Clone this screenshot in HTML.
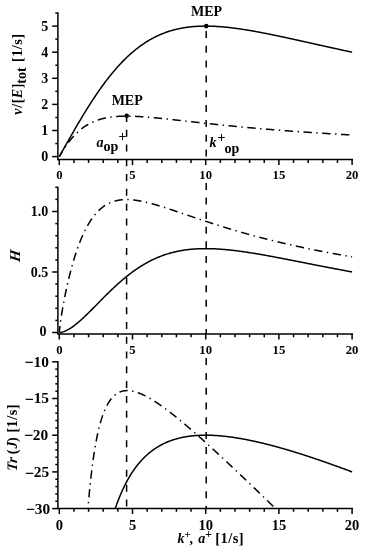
<!DOCTYPE html><html><head><meta charset="utf-8"><title>MEP figure</title><style>html,body{margin:0;padding:0;background:#fff;width:365px;height:550px;overflow:hidden}svg{display:block}</style></head><body><svg width="365" height="550" viewBox="0 0 365 550">
<style>.ax{stroke:#000;stroke-width:1.5;fill:none;stroke-linecap:butt}.c{stroke:#000;stroke-width:1.5;fill:none;stroke-linejoin:round}.dd{stroke-dasharray:8.4 4.5 1.4 4.5}.vd{stroke:#000;stroke-width:1.5;fill:none}.t{font-family:"Liberation Serif",serif;font-weight:bold;fill:#000}.i{font-style:italic}</style>
<rect width="365" height="550" fill="#fff"/>
<path class="vd" d="M206.20,30.90V37.90M206.20,45.73V52.73M206.20,60.56V67.56M206.20,75.39V82.39M206.20,90.22V97.22M206.20,105.05V112.05M206.20,119.88V126.88M206.20,134.71V141.71M206.20,149.54V156.54"/>
<path class="vd" d="M206.20,182.90V189.90M206.20,197.51V204.51M206.20,212.12V219.12M206.20,226.73V233.73M206.20,241.34V248.34M206.20,255.95V262.95M206.20,270.56V277.56M206.20,285.17V292.17M206.20,299.78V306.78M206.20,314.39V321.39M206.20,329.00V334.00"/>
<path class="vd" d="M206.20,358.10V365.10M206.20,372.90V379.90M206.20,387.70V394.70M206.20,402.50V409.50M206.20,417.30V424.30M206.20,432.10V439.10M206.20,446.90V453.90M206.20,461.70V468.70M206.20,476.50V483.50M206.20,491.30V498.30M206.20,506.10V508.50"/>
<path class="vd" d="M126.60,114.90V121.90M126.60,129.69V136.69M126.60,144.48V151.48M126.60,159.27V166.27M126.60,174.06V181.06M126.60,188.85V195.85M126.60,203.64V210.64M126.60,218.43V225.43M126.60,233.22V240.22M126.60,248.01V255.01M126.60,262.80V269.80M126.60,277.59V284.59M126.60,292.38V299.38M126.60,307.17V314.17M126.60,321.96V328.96M126.60,336.75V343.75M126.60,351.54V358.54M126.60,366.33V373.33M126.60,381.12V388.12M126.60,395.91V402.91M126.60,410.70V417.70M126.60,425.49V432.49M126.60,440.28V447.28M126.60,455.07V462.07M126.60,469.86V476.86M126.60,484.65V491.65M126.60,499.44V506.44"/>
<line x1="57.90" y1="12.30" x2="57.90" y2="160.20" class="ax"/>
<line x1="52.20" y1="156.60" x2="57.90" y2="156.60" class="ax"/>
<line x1="52.20" y1="130.50" x2="57.90" y2="130.50" class="ax"/>
<line x1="52.20" y1="104.40" x2="57.90" y2="104.40" class="ax"/>
<line x1="52.20" y1="78.30" x2="57.90" y2="78.30" class="ax"/>
<line x1="52.20" y1="52.20" x2="57.90" y2="52.20" class="ax"/>
<line x1="52.20" y1="26.10" x2="57.90" y2="26.10" class="ax"/>
<line x1="55.30" y1="143.55" x2="57.90" y2="143.55" class="ax"/>
<line x1="55.30" y1="117.45" x2="57.90" y2="117.45" class="ax"/>
<line x1="55.30" y1="91.35" x2="57.90" y2="91.35" class="ax"/>
<line x1="55.30" y1="65.25" x2="57.90" y2="65.25" class="ax"/>
<line x1="55.30" y1="39.15" x2="57.90" y2="39.15" class="ax"/>
<line x1="55.30" y1="13.05" x2="57.90" y2="13.05" class="ax"/>
<text x="48.30" y="161.36" text-anchor="end" font-size="14" class="t">0</text>
<text x="48.30" y="135.26" text-anchor="end" font-size="14" class="t">1</text>
<text x="48.30" y="109.16" text-anchor="end" font-size="14" class="t">2</text>
<text x="48.30" y="83.06" text-anchor="end" font-size="14" class="t">3</text>
<text x="48.30" y="56.96" text-anchor="end" font-size="14" class="t">4</text>
<text x="48.30" y="30.86" text-anchor="end" font-size="14" class="t">5</text>
<line x1="57.30" y1="159.60" x2="353.00" y2="159.60" class="ax"/>
<line x1="59.30" y1="159.60" x2="59.30" y2="165.10" class="ax"/>
<line x1="73.94" y1="159.60" x2="73.94" y2="162.90" class="ax"/>
<line x1="88.58" y1="159.60" x2="88.58" y2="162.90" class="ax"/>
<line x1="103.22" y1="159.60" x2="103.22" y2="162.90" class="ax"/>
<line x1="117.86" y1="159.60" x2="117.86" y2="162.90" class="ax"/>
<line x1="132.50" y1="159.60" x2="132.50" y2="165.10" class="ax"/>
<line x1="147.14" y1="159.60" x2="147.14" y2="162.90" class="ax"/>
<line x1="161.78" y1="159.60" x2="161.78" y2="162.90" class="ax"/>
<line x1="176.42" y1="159.60" x2="176.42" y2="162.90" class="ax"/>
<line x1="191.06" y1="159.60" x2="191.06" y2="162.90" class="ax"/>
<line x1="205.70" y1="159.60" x2="205.70" y2="165.10" class="ax"/>
<line x1="220.34" y1="159.60" x2="220.34" y2="162.90" class="ax"/>
<line x1="234.98" y1="159.60" x2="234.98" y2="162.90" class="ax"/>
<line x1="249.62" y1="159.60" x2="249.62" y2="162.90" class="ax"/>
<line x1="264.26" y1="159.60" x2="264.26" y2="162.90" class="ax"/>
<line x1="278.90" y1="159.60" x2="278.90" y2="165.10" class="ax"/>
<line x1="293.54" y1="159.60" x2="293.54" y2="162.90" class="ax"/>
<line x1="308.18" y1="159.60" x2="308.18" y2="162.90" class="ax"/>
<line x1="322.82" y1="159.60" x2="322.82" y2="162.90" class="ax"/>
<line x1="337.46" y1="159.60" x2="337.46" y2="162.90" class="ax"/>
<line x1="352.10" y1="159.60" x2="352.10" y2="165.10" class="ax"/>
<text x="59.30" y="179.20" text-anchor="middle" font-size="12.7" class="t">0</text>
<text x="132.50" y="179.20" text-anchor="middle" font-size="12.7" class="t">5</text>
<rect x="198.71" y="166.10" width="13.97" height="13.33" fill="#fff"/>
<text x="205.70" y="179.20" text-anchor="middle" font-size="12.7" class="t">10</text>
<text x="278.90" y="179.20" text-anchor="middle" font-size="12.7" class="t">15</text>
<text x="352.10" y="179.20" text-anchor="middle" font-size="12.7" class="t">20</text>
<path class="c" d="M59.30,156.60 L60.03,155.30 L60.76,153.99 L61.50,152.69 L62.23,151.38 L62.96,150.08 L63.69,148.78 L64.42,147.48 L65.16,146.18 L65.89,144.88 L66.62,143.58 L67.35,142.29 L68.08,141.00 L68.82,139.71 L69.55,138.42 L70.28,137.13 L71.01,135.85 L71.74,134.57 L72.48,133.30 L73.21,132.03 L73.94,130.76 L74.67,129.49 L75.40,128.23 L76.14,126.98 L76.87,125.72 L77.60,124.48 L78.33,123.23 L79.06,122.00 L79.80,120.76 L80.53,119.53 L81.26,118.31 L81.99,117.09 L82.72,115.88 L83.46,114.68 L84.19,113.48 L84.92,112.28 L85.65,111.09 L86.38,109.91 L87.12,108.74 L87.85,107.57 L88.58,106.41 L89.31,105.25 L90.04,104.11 L90.78,102.96 L91.51,101.83 L92.24,100.70 L92.97,99.59 L93.70,98.47 L94.44,97.37 L95.17,96.28 L95.90,95.19 L96.63,94.11 L97.36,93.04 L98.10,91.97 L98.83,90.92 L99.56,89.87 L100.29,88.83 L101.02,87.80 L101.76,86.78 L102.49,85.77 L103.22,84.77 L103.95,83.77 L104.68,82.78 L105.42,81.81 L106.15,80.84 L106.88,79.88 L107.61,78.93 L108.34,77.99 L109.08,77.06 L109.81,76.13 L110.54,75.22 L111.27,74.31 L112.00,73.42 L112.74,72.53 L113.47,71.66 L114.20,70.79 L114.93,69.93 L115.66,69.09 L116.40,68.25 L117.13,67.42 L117.86,66.60 L118.59,65.79 L119.32,64.99 L120.06,64.20 L120.79,63.42 L121.52,62.65 L122.25,61.88 L122.98,61.13 L123.72,60.39 L124.45,59.65 L125.18,58.93 L125.91,58.21 L126.64,57.51 L127.38,56.81 L128.11,56.12 L128.84,55.45 L129.57,54.78 L130.30,54.12 L131.04,53.47 L131.77,52.83 L132.50,52.20 L133.23,51.58 L133.96,50.97 L134.70,50.36 L135.43,49.77 L136.16,49.18 L136.89,48.61 L137.62,48.04 L138.36,47.48 L139.09,46.93 L139.82,46.39 L140.55,45.86 L141.28,45.33 L142.02,44.82 L142.75,44.31 L143.48,43.81 L144.21,43.33 L144.94,42.84 L145.68,42.37 L146.41,41.91 L147.14,41.45 L147.87,41.01 L148.60,40.57 L149.34,40.13 L150.07,39.71 L150.80,39.30 L151.53,38.89 L152.26,38.49 L153.00,38.10 L153.73,37.71 L154.46,37.34 L155.19,36.97 L155.92,36.61 L156.66,36.25 L157.39,35.91 L158.12,35.57 L158.85,35.24 L159.58,34.91 L160.32,34.60 L161.05,34.29 L161.78,33.98 L162.51,33.69 L163.24,33.40 L163.98,33.11 L164.71,32.84 L165.44,32.57 L166.17,32.31 L166.90,32.05 L167.64,31.80 L168.37,31.56 L169.10,31.32 L169.83,31.09 L170.56,30.86 L171.30,30.65 L172.03,30.43 L172.76,30.23 L173.49,30.03 L174.22,29.83 L174.96,29.64 L175.69,29.46 L176.42,29.28 L177.15,29.11 L177.88,28.94 L178.62,28.78 L179.35,28.63 L180.08,28.48 L180.81,28.33 L181.54,28.19 L182.28,28.06 L183.01,27.93 L183.74,27.80 L184.47,27.69 L185.20,27.57 L185.94,27.46 L186.67,27.36 L187.40,27.25 L188.13,27.16 L188.86,27.07 L189.60,26.98 L190.33,26.90 L191.06,26.82 L191.79,26.75 L192.52,26.68 L193.26,26.61 L193.99,26.55 L194.72,26.50 L195.45,26.44 L196.18,26.39 L196.92,26.35 L197.65,26.31 L198.38,26.27 L199.11,26.24 L199.84,26.21 L200.58,26.18 L201.31,26.16 L202.04,26.14 L202.77,26.13 L203.50,26.11 L204.24,26.11 L204.97,26.10 L205.70,26.10 L206.43,26.10 L207.16,26.11 L207.90,26.11 L208.63,26.13 L209.36,26.14 L210.09,26.16 L210.82,26.18 L211.56,26.20 L212.29,26.23 L213.02,26.26 L213.75,26.29 L214.48,26.32 L215.22,26.36 L215.95,26.40 L216.68,26.44 L217.41,26.49 L218.14,26.53 L218.88,26.58 L219.61,26.64 L220.34,26.69 L221.07,26.75 L221.80,26.81 L222.54,26.87 L223.27,26.93 L224.00,27.00 L224.73,27.07 L225.46,27.14 L226.20,27.21 L226.93,27.29 L227.66,27.36 L228.39,27.44 L229.12,27.52 L229.86,27.61 L230.59,27.69 L231.32,27.78 L232.05,27.87 L232.78,27.96 L233.52,28.05 L234.25,28.14 L234.98,28.24 L235.71,28.34 L236.44,28.44 L237.18,28.54 L237.91,28.64 L238.64,28.74 L239.37,28.85 L240.10,28.95 L240.84,29.06 L241.57,29.17 L242.30,29.28 L243.03,29.40 L243.76,29.51 L244.50,29.62 L245.23,29.74 L245.96,29.86 L246.69,29.98 L247.42,30.10 L248.16,30.22 L248.89,30.34 L249.62,30.47 L250.35,30.59 L251.08,30.72 L251.82,30.84 L252.55,30.97 L253.28,31.10 L254.01,31.23 L254.74,31.36 L255.48,31.50 L256.21,31.63 L256.94,31.76 L257.67,31.90 L258.40,32.04 L259.14,32.17 L259.87,32.31 L260.60,32.45 L261.33,32.59 L262.06,32.73 L262.80,32.87 L263.53,33.01 L264.26,33.15 L264.99,33.30 L265.72,33.44 L266.46,33.59 L267.19,33.73 L267.92,33.88 L268.65,34.02 L269.38,34.17 L270.12,34.32 L270.85,34.47 L271.58,34.62 L272.31,34.77 L273.04,34.92 L273.78,35.07 L274.51,35.22 L275.24,35.37 L275.97,35.52 L276.70,35.68 L277.44,35.83 L278.17,35.98 L278.90,36.14 L279.63,36.29 L280.36,36.45 L281.10,36.60 L281.83,36.76 L282.56,36.92 L283.29,37.07 L284.02,37.23 L284.76,37.39 L285.49,37.54 L286.22,37.70 L286.95,37.86 L287.68,38.02 L288.42,38.18 L289.15,38.34 L289.88,38.50 L290.61,38.66 L291.34,38.82 L292.08,38.98 L292.81,39.14 L293.54,39.30 L294.27,39.46 L295.00,39.62 L295.74,39.78 L296.47,39.94 L297.20,40.10 L297.93,40.26 L298.66,40.43 L299.40,40.59 L300.13,40.75 L300.86,40.91 L301.59,41.07 L302.32,41.24 L303.06,41.40 L303.79,41.56 L304.52,41.72 L305.25,41.89 L305.98,42.05 L306.72,42.21 L307.45,42.38 L308.18,42.54 L308.91,42.70 L309.64,42.86 L310.38,43.03 L311.11,43.19 L311.84,43.35 L312.57,43.52 L313.30,43.68 L314.04,43.84 L314.77,44.01 L315.50,44.17 L316.23,44.33 L316.96,44.50 L317.70,44.66 L318.43,44.82 L319.16,44.98 L319.89,45.15 L320.62,45.31 L321.36,45.47 L322.09,45.64 L322.82,45.80 L323.55,45.96 L324.28,46.12 L325.02,46.29 L325.75,46.45 L326.48,46.61 L327.21,46.77 L327.94,46.93 L328.68,47.10 L329.41,47.26 L330.14,47.42 L330.87,47.58 L331.60,47.74 L332.34,47.90 L333.07,48.07 L333.80,48.23 L334.53,48.39 L335.26,48.55 L336.00,48.71 L336.73,48.87 L337.46,49.03 L338.19,49.19 L338.92,49.35 L339.66,49.51 L340.39,49.67 L341.12,49.83 L341.85,49.99 L342.58,50.15 L343.32,50.31 L344.05,50.47 L344.78,50.62 L345.51,50.78 L346.24,50.94 L346.98,51.10 L347.71,51.26 L348.44,51.41 L349.17,51.57 L349.90,51.73 L350.64,51.89 L351.37,52.04 L352.10,52.20"/>
<path class="c dd" stroke-dashoffset="2.02" d="M59.30,156.60 L60.03,155.31 L60.76,154.04 L61.50,152.81 L62.23,151.60 L62.96,150.42 L63.69,149.26 L64.42,148.13 L65.16,147.03 L65.89,145.96 L66.62,144.91 L67.35,143.89 L68.08,142.90 L68.82,141.93 L69.55,140.98 L70.28,140.06 L71.01,139.17 L71.74,138.30 L72.48,137.45 L73.21,136.63 L73.94,135.83 L74.67,135.06 L75.40,134.31 L76.14,133.57 L76.87,132.87 L77.60,132.18 L78.33,131.51 L79.06,130.87 L79.80,130.24 L80.53,129.63 L81.26,129.05 L81.99,128.48 L82.72,127.93 L83.46,127.40 L84.19,126.88 L84.92,126.39 L85.65,125.91 L86.38,125.44 L87.12,125.00 L87.85,124.57 L88.58,124.15 L89.31,123.75 L90.04,123.36 L90.78,122.99 L91.51,122.63 L92.24,122.29 L92.97,121.95 L93.70,121.64 L94.44,121.33 L95.17,121.03 L95.90,120.75 L96.63,120.48 L97.36,120.22 L98.10,119.97 L98.83,119.73 L99.56,119.50 L100.29,119.28 L101.02,119.08 L101.76,118.88 L102.49,118.69 L103.22,118.50 L103.95,118.33 L104.68,118.17 L105.42,118.01 L106.15,117.86 L106.88,117.72 L107.61,117.59 L108.34,117.46 L109.08,117.34 L109.81,117.23 L110.54,117.13 L111.27,117.03 L112.00,116.94 L112.74,116.85 L113.47,116.77 L114.20,116.69 L114.93,116.62 L115.66,116.56 L116.40,116.50 L117.13,116.45 L117.86,116.40 L118.59,116.35 L119.32,116.32 L120.06,116.28 L120.79,116.25 L121.52,116.22 L122.25,116.20 L122.98,116.18 L123.72,116.17 L124.45,116.15 L125.18,116.15 L125.91,116.14 L126.64,116.14 L127.38,116.14 L128.11,116.15 L128.84,116.16 L129.57,116.17 L130.30,116.18 L131.04,116.20 L131.77,116.22 L132.50,116.24 L133.23,116.27 L133.96,116.29 L134.70,116.32 L135.43,116.35 L136.16,116.39 L136.89,116.42 L137.62,116.46 L138.36,116.50 L139.09,116.54 L139.82,116.58 L140.55,116.63 L141.28,116.68 L142.02,116.72 L142.75,116.77 L143.48,116.83 L144.21,116.88 L144.94,116.93 L145.68,116.99 L146.41,117.05 L147.14,117.10 L147.87,117.16 L148.60,117.22 L149.34,117.29 L150.07,117.35 L150.80,117.41 L151.53,117.48 L152.26,117.54 L153.00,117.61 L153.73,117.68 L154.46,117.75 L155.19,117.81 L155.92,117.88 L156.66,117.96 L157.39,118.03 L158.12,118.10 L158.85,118.17 L159.58,118.25 L160.32,118.32 L161.05,118.39 L161.78,118.47 L162.51,118.54 L163.24,118.62 L163.98,118.70 L164.71,118.77 L165.44,118.85 L166.17,118.93 L166.90,119.01 L167.64,119.09 L168.37,119.16 L169.10,119.24 L169.83,119.32 L170.56,119.40 L171.30,119.48 L172.03,119.56 L172.76,119.64 L173.49,119.72 L174.22,119.81 L174.96,119.89 L175.69,119.97 L176.42,120.05 L177.15,120.13 L177.88,120.21 L178.62,120.29 L179.35,120.38 L180.08,120.46 L180.81,120.54 L181.54,120.62 L182.28,120.70 L183.01,120.79 L183.74,120.87 L184.47,120.95 L185.20,121.03 L185.94,121.12 L186.67,121.20 L187.40,121.28 L188.13,121.36 L188.86,121.44 L189.60,121.53 L190.33,121.61 L191.06,121.69 L191.79,121.77 L192.52,121.85 L193.26,121.94 L193.99,122.02 L194.72,122.10 L195.45,122.18 L196.18,122.26 L196.92,122.34 L197.65,122.43 L198.38,122.51 L199.11,122.59 L199.84,122.67 L200.58,122.75 L201.31,122.83 L202.04,122.91 L202.77,122.99 L203.50,123.07 L204.24,123.15 L204.97,123.23 L205.70,123.31 L206.43,123.39 L207.16,123.47 L207.90,123.55 L208.63,123.63 L209.36,123.70 L210.09,123.78 L210.82,123.86 L211.56,123.94 L212.29,124.02 L213.02,124.10 L213.75,124.17 L214.48,124.25 L215.22,124.33 L215.95,124.40 L216.68,124.48 L217.41,124.56 L218.14,124.63 L218.88,124.71 L219.61,124.79 L220.34,124.86 L221.07,124.94 L221.80,125.01 L222.54,125.09 L223.27,125.16 L224.00,125.24 L224.73,125.31 L225.46,125.39 L226.20,125.46 L226.93,125.53 L227.66,125.61 L228.39,125.68 L229.12,125.75 L229.86,125.83 L230.59,125.90 L231.32,125.97 L232.05,126.04 L232.78,126.12 L233.52,126.19 L234.25,126.26 L234.98,126.33 L235.71,126.40 L236.44,126.47 L237.18,126.54 L237.91,126.61 L238.64,126.68 L239.37,126.75 L240.10,126.82 L240.84,126.89 L241.57,126.96 L242.30,127.03 L243.03,127.10 L243.76,127.17 L244.50,127.24 L245.23,127.30 L245.96,127.37 L246.69,127.44 L247.42,127.51 L248.16,127.57 L248.89,127.64 L249.62,127.71 L250.35,127.77 L251.08,127.84 L251.82,127.90 L252.55,127.97 L253.28,128.04 L254.01,128.10 L254.74,128.17 L255.48,128.23 L256.21,128.29 L256.94,128.36 L257.67,128.42 L258.40,128.49 L259.14,128.55 L259.87,128.61 L260.60,128.68 L261.33,128.74 L262.06,128.80 L262.80,128.86 L263.53,128.93 L264.26,128.99 L264.99,129.05 L265.72,129.11 L266.46,129.17 L267.19,129.23 L267.92,129.30 L268.65,129.36 L269.38,129.42 L270.12,129.48 L270.85,129.54 L271.58,129.60 L272.31,129.66 L273.04,129.72 L273.78,129.77 L274.51,129.83 L275.24,129.89 L275.97,129.95 L276.70,130.01 L277.44,130.07 L278.17,130.12 L278.90,130.18 L279.63,130.24 L280.36,130.30 L281.10,130.35 L281.83,130.41 L282.56,130.47 L283.29,130.52 L284.02,130.58 L284.76,130.64 L285.49,130.69 L286.22,130.75 L286.95,130.80 L287.68,130.86 L288.42,130.91 L289.15,130.97 L289.88,131.02 L290.61,131.08 L291.34,131.13 L292.08,131.18 L292.81,131.24 L293.54,131.29 L294.27,131.34 L295.00,131.40 L295.74,131.45 L296.47,131.50 L297.20,131.56 L297.93,131.61 L298.66,131.66 L299.40,131.71 L300.13,131.76 L300.86,131.82 L301.59,131.87 L302.32,131.92 L303.06,131.97 L303.79,132.02 L304.52,132.07 L305.25,132.12 L305.98,132.17 L306.72,132.22 L307.45,132.27 L308.18,132.32 L308.91,132.37 L309.64,132.42 L310.38,132.47 L311.11,132.52 L311.84,132.57 L312.57,132.62 L313.30,132.67 L314.04,132.71 L314.77,132.76 L315.50,132.81 L316.23,132.86 L316.96,132.91 L317.70,132.95 L318.43,133.00 L319.16,133.05 L319.89,133.09 L320.62,133.14 L321.36,133.19 L322.09,133.23 L322.82,133.28 L323.55,133.33 L324.28,133.37 L325.02,133.42 L325.75,133.46 L326.48,133.51 L327.21,133.55 L327.94,133.60 L328.68,133.65 L329.41,133.69 L330.14,133.73 L330.87,133.78 L331.60,133.82 L332.34,133.87 L333.07,133.91 L333.80,133.96 L334.53,134.00 L335.26,134.04 L336.00,134.09 L336.73,134.13 L337.46,134.17 L338.19,134.22 L338.92,134.26 L339.66,134.30 L340.39,134.34 L341.12,134.39 L341.85,134.43 L342.58,134.47 L343.32,134.51 L344.05,134.55 L344.78,134.60 L345.51,134.64 L346.24,134.68 L346.98,134.72 L347.71,134.76 L348.44,134.80 L349.17,134.84 L349.90,134.88 L350.64,134.92 L351.37,134.96 L352.10,135.00"/>
<line x1="57.90" y1="186.70" x2="57.90" y2="334.60" class="ax"/>
<line x1="52.20" y1="332.50" x2="57.90" y2="332.50" class="ax"/>
<line x1="52.20" y1="272.00" x2="57.90" y2="272.00" class="ax"/>
<line x1="52.20" y1="211.50" x2="57.90" y2="211.50" class="ax"/>
<line x1="55.30" y1="320.40" x2="57.90" y2="320.40" class="ax"/>
<line x1="55.30" y1="308.30" x2="57.90" y2="308.30" class="ax"/>
<line x1="55.30" y1="296.20" x2="57.90" y2="296.20" class="ax"/>
<line x1="55.30" y1="284.10" x2="57.90" y2="284.10" class="ax"/>
<line x1="55.30" y1="259.90" x2="57.90" y2="259.90" class="ax"/>
<line x1="55.30" y1="247.80" x2="57.90" y2="247.80" class="ax"/>
<line x1="55.30" y1="235.70" x2="57.90" y2="235.70" class="ax"/>
<line x1="55.30" y1="223.60" x2="57.90" y2="223.60" class="ax"/>
<line x1="55.30" y1="199.40" x2="57.90" y2="199.40" class="ax"/>
<line x1="55.30" y1="187.30" x2="57.90" y2="187.30" class="ax"/>
<text x="46.50" y="335.96" text-anchor="end" font-size="14" class="t">0</text>
<text x="48.30" y="276.76" text-anchor="end" font-size="14" class="t">0.5</text>
<text x="48.30" y="216.26" text-anchor="end" font-size="14" class="t">1.0</text>
<line x1="57.30" y1="334.00" x2="353.00" y2="334.00" class="ax"/>
<line x1="59.30" y1="334.00" x2="59.30" y2="339.50" class="ax"/>
<line x1="73.94" y1="334.00" x2="73.94" y2="337.30" class="ax"/>
<line x1="88.58" y1="334.00" x2="88.58" y2="337.30" class="ax"/>
<line x1="103.22" y1="334.00" x2="103.22" y2="337.30" class="ax"/>
<line x1="117.86" y1="334.00" x2="117.86" y2="337.30" class="ax"/>
<line x1="132.50" y1="334.00" x2="132.50" y2="339.50" class="ax"/>
<line x1="147.14" y1="334.00" x2="147.14" y2="337.30" class="ax"/>
<line x1="161.78" y1="334.00" x2="161.78" y2="337.30" class="ax"/>
<line x1="176.42" y1="334.00" x2="176.42" y2="337.30" class="ax"/>
<line x1="191.06" y1="334.00" x2="191.06" y2="337.30" class="ax"/>
<line x1="205.70" y1="334.00" x2="205.70" y2="339.50" class="ax"/>
<line x1="220.34" y1="334.00" x2="220.34" y2="337.30" class="ax"/>
<line x1="234.98" y1="334.00" x2="234.98" y2="337.30" class="ax"/>
<line x1="249.62" y1="334.00" x2="249.62" y2="337.30" class="ax"/>
<line x1="264.26" y1="334.00" x2="264.26" y2="337.30" class="ax"/>
<line x1="278.90" y1="334.00" x2="278.90" y2="339.50" class="ax"/>
<line x1="293.54" y1="334.00" x2="293.54" y2="337.30" class="ax"/>
<line x1="308.18" y1="334.00" x2="308.18" y2="337.30" class="ax"/>
<line x1="322.82" y1="334.00" x2="322.82" y2="337.30" class="ax"/>
<line x1="337.46" y1="334.00" x2="337.46" y2="337.30" class="ax"/>
<line x1="352.10" y1="334.00" x2="352.10" y2="339.50" class="ax"/>
<text x="59.30" y="353.80" text-anchor="middle" font-size="12.7" class="t">0</text>
<text x="132.50" y="353.80" text-anchor="middle" font-size="12.7" class="t">5</text>
<rect x="198.71" y="340.50" width="13.97" height="13.33" fill="#fff"/>
<text x="205.70" y="353.80" text-anchor="middle" font-size="12.7" class="t">10</text>
<text x="278.90" y="353.80" text-anchor="middle" font-size="12.7" class="t">15</text>
<text x="352.10" y="353.80" text-anchor="middle" font-size="12.7" class="t">20</text>
<path class="c" d="M59.30,332.50 L60.03,332.46 L60.77,332.38 L61.50,332.24 L62.23,332.07 L62.96,331.87 L63.69,331.63 L64.43,331.36 L65.16,331.06 L65.89,330.74 L66.62,330.39 L67.35,330.02 L68.09,329.62 L68.82,329.21 L69.55,328.77 L70.28,328.31 L71.01,327.84 L71.75,327.35 L72.48,326.84 L73.21,326.32 L73.94,325.78 L74.67,325.22 L75.41,324.66 L76.14,324.08 L76.87,323.49 L77.60,322.88 L78.33,322.27 L79.07,321.64 L79.80,321.00 L80.53,320.36 L81.26,319.70 L81.99,319.04 L82.73,318.37 L83.46,317.69 L84.19,317.01 L84.92,316.31 L85.65,315.62 L86.39,314.91 L87.12,314.20 L87.85,313.49 L88.58,312.77 L89.31,312.05 L90.05,311.32 L90.78,310.60 L91.51,309.86 L92.24,309.13 L92.97,308.39 L93.71,307.65 L94.44,306.91 L95.17,306.17 L95.90,305.43 L96.63,304.69 L97.37,303.94 L98.10,303.20 L98.83,302.46 L99.56,301.71 L100.29,300.97 L101.03,300.23 L101.76,299.49 L102.49,298.75 L103.22,298.01 L103.95,297.28 L104.69,296.55 L105.42,295.82 L106.15,295.09 L106.88,294.36 L107.61,293.64 L108.35,292.92 L109.08,292.21 L109.81,291.50 L110.54,290.79 L111.27,290.09 L112.01,289.39 L112.74,288.69 L113.47,288.00 L114.20,287.31 L114.93,286.63 L115.67,285.96 L116.40,285.28 L117.13,284.62 L117.86,283.95 L118.59,283.30 L119.33,282.65 L120.06,282.00 L120.79,281.36 L121.52,280.73 L122.25,280.10 L122.99,279.48 L123.72,278.86 L124.45,278.25 L125.18,277.65 L125.91,277.05 L126.65,276.45 L127.38,275.87 L128.11,275.29 L128.84,274.72 L129.57,274.15 L130.31,273.59 L131.04,273.04 L131.77,272.49 L132.50,271.95 L133.23,271.42 L133.97,270.89 L134.70,270.37 L135.43,269.86 L136.16,269.35 L136.89,268.85 L137.63,268.36 L138.36,267.87 L139.09,267.39 L139.82,266.92 L140.55,266.45 L141.29,266.00 L142.02,265.54 L142.75,265.10 L143.48,264.66 L144.21,264.23 L144.95,263.80 L145.68,263.39 L146.41,262.98 L147.14,262.57 L147.87,262.17 L148.61,261.78 L149.34,261.40 L150.07,261.02 L150.80,260.65 L151.53,260.29 L152.26,259.93 L153.00,259.58 L153.73,259.23 L154.46,258.89 L155.19,258.56 L155.92,258.24 L156.66,257.92 L157.39,257.61 L158.12,257.30 L158.85,257.00 L159.58,256.71 L160.32,256.42 L161.05,256.14 L161.78,255.86 L162.51,255.59 L163.24,255.33 L163.98,255.07 L164.71,254.82 L165.44,254.58 L166.17,254.34 L166.90,254.10 L167.64,253.88 L168.37,253.65 L169.10,253.44 L169.83,253.23 L170.56,253.02 L171.30,252.82 L172.03,252.62 L172.76,252.44 L173.49,252.25 L174.22,252.07 L174.96,251.90 L175.69,251.73 L176.42,251.57 L177.15,251.41 L177.88,251.26 L178.62,251.11 L179.35,250.97 L180.08,250.83 L180.81,250.69 L181.54,250.56 L182.28,250.44 L183.01,250.32 L183.74,250.21 L184.47,250.10 L185.20,249.99 L185.94,249.89 L186.67,249.79 L187.40,249.70 L188.13,249.61 L188.86,249.53 L189.60,249.45 L190.33,249.37 L191.06,249.30 L191.79,249.23 L192.52,249.16 L193.26,249.10 L193.99,249.05 L194.72,249.00 L195.45,248.95 L196.18,248.90 L196.92,248.86 L197.65,248.82 L198.38,248.79 L199.11,248.76 L199.84,248.73 L200.58,248.71 L201.31,248.69 L202.04,248.67 L202.77,248.65 L203.50,248.64 L204.24,248.64 L204.97,248.63 L205.70,248.63 L206.43,248.63 L207.16,248.64 L207.90,248.64 L208.63,248.65 L209.36,248.67 L210.09,248.68 L210.82,248.70 L211.56,248.72 L212.29,248.75 L213.02,248.77 L213.75,248.80 L214.48,248.83 L215.22,248.87 L215.95,248.91 L216.68,248.94 L217.41,248.99 L218.14,249.03 L218.88,249.08 L219.61,249.13 L220.34,249.18 L221.07,249.23 L221.80,249.28 L222.54,249.34 L223.27,249.40 L224.00,249.46 L224.73,249.53 L225.46,249.59 L226.20,249.66 L226.93,249.73 L227.66,249.80 L228.39,249.87 L229.12,249.95 L229.86,250.02 L230.59,250.10 L231.32,250.18 L232.05,250.26 L232.78,250.35 L233.52,250.43 L234.25,250.52 L234.98,250.61 L235.71,250.70 L236.44,250.79 L237.18,250.88 L237.91,250.98 L238.64,251.07 L239.37,251.17 L240.10,251.27 L240.84,251.37 L241.57,251.47 L242.30,251.57 L243.03,251.67 L243.76,251.78 L244.50,251.88 L245.23,251.99 L245.96,252.10 L246.69,252.21 L247.42,252.32 L248.16,252.43 L248.89,252.54 L249.62,252.65 L250.35,252.77 L251.08,252.88 L251.82,253.00 L252.55,253.12 L253.28,253.24 L254.01,253.36 L254.74,253.48 L255.48,253.60 L256.21,253.72 L256.94,253.84 L257.67,253.97 L258.40,254.09 L259.14,254.21 L259.87,254.34 L260.60,254.47 L261.33,254.59 L262.06,254.72 L262.80,254.85 L263.53,254.98 L264.26,255.11 L264.99,255.24 L265.72,255.37 L266.46,255.50 L267.19,255.63 L267.92,255.77 L268.65,255.90 L269.38,256.03 L270.12,256.17 L270.85,256.30 L271.58,256.44 L272.31,256.57 L273.04,256.71 L273.78,256.85 L274.51,256.98 L275.24,257.12 L275.97,257.26 L276.70,257.40 L277.44,257.54 L278.17,257.67 L278.90,257.81 L279.63,257.95 L280.36,258.09 L281.10,258.23 L281.83,258.37 L282.56,258.51 L283.29,258.66 L284.02,258.80 L284.76,258.94 L285.49,259.08 L286.22,259.22 L286.95,259.36 L287.68,259.51 L288.42,259.65 L289.15,259.79 L289.88,259.93 L290.61,260.08 L291.34,260.22 L292.08,260.36 L292.81,260.51 L293.54,260.65 L294.27,260.79 L295.00,260.94 L295.74,261.08 L296.47,261.23 L297.20,261.37 L297.93,261.51 L298.66,261.66 L299.40,261.80 L300.13,261.95 L300.86,262.09 L301.59,262.23 L302.32,262.38 L303.06,262.52 L303.79,262.67 L304.52,262.81 L305.25,262.96 L305.98,263.10 L306.72,263.25 L307.45,263.39 L308.18,263.53 L308.91,263.68 L309.64,263.82 L310.38,263.97 L311.11,264.11 L311.84,264.25 L312.57,264.40 L313.30,264.54 L314.04,264.69 L314.77,264.83 L315.50,264.97 L316.23,265.12 L316.96,265.26 L317.70,265.40 L318.43,265.55 L319.16,265.69 L319.89,265.83 L320.62,265.98 L321.36,266.12 L322.09,266.26 L322.82,266.40 L323.55,266.55 L324.28,266.69 L325.02,266.83 L325.75,266.97 L326.48,267.11 L327.21,267.26 L327.94,267.40 L328.68,267.54 L329.41,267.68 L330.14,267.82 L330.87,267.96 L331.60,268.10 L332.34,268.24 L333.07,268.38 L333.80,268.52 L334.53,268.66 L335.26,268.80 L336.00,268.94 L336.73,269.08 L337.46,269.22 L338.19,269.36 L338.92,269.50 L339.66,269.63 L340.39,269.77 L341.12,269.91 L341.85,270.05 L342.58,270.19 L343.32,270.32 L344.05,270.46 L344.78,270.60 L345.51,270.73 L346.24,270.87 L346.98,271.01 L347.71,271.14 L348.44,271.28 L349.17,271.41 L349.90,271.55 L350.64,271.68 L351.37,271.82 L352.10,271.95"/>
<path class="c dd" stroke-dashoffset="1.89" d="M59.30,332.47 L59.67,328.50 L60.03,325.37 L60.40,322.54 L60.77,319.91 L61.13,317.41 L61.50,315.03 L61.86,312.74 L62.23,310.52 L62.60,308.38 L62.96,306.29 L63.33,304.26 L63.69,302.28 L64.06,300.34 L64.43,298.45 L64.79,296.59 L65.16,294.78 L65.52,293.00 L65.89,291.25 L66.26,289.53 L66.62,287.85 L66.99,286.19 L67.35,284.56 L67.72,282.96 L68.09,281.39 L68.45,279.85 L68.82,278.32 L69.18,276.83 L69.55,275.35 L69.92,273.91 L70.28,272.48 L70.65,271.08 L71.01,269.69 L71.38,268.33 L71.75,266.99 L72.11,265.68 L72.48,264.38 L72.84,263.10 L73.21,261.84 L73.58,260.61 L73.94,259.39 L74.31,258.19 L74.67,257.01 L75.04,255.84 L75.41,254.70 L75.77,253.57 L76.14,252.46 L76.50,251.37 L76.87,250.30 L77.24,249.24 L77.60,248.20 L77.97,247.18 L78.33,246.17 L78.70,245.18 L79.07,244.20 L79.43,243.24 L79.80,242.30 L80.16,241.37 L80.53,240.46 L80.90,239.56 L81.26,238.67 L81.63,237.81 L81.99,236.95 L82.36,236.11 L82.73,235.28 L83.09,234.47 L83.46,233.67 L83.82,232.89 L84.19,232.11 L84.56,231.35 L84.92,230.61 L85.29,229.88 L85.65,229.15 L86.02,228.45 L86.39,227.75 L86.75,227.07 L87.12,226.40 L87.48,225.74 L87.85,225.09 L88.22,224.46 L88.58,223.83 L88.95,223.22 L89.31,222.62 L89.68,222.03 L90.05,221.45 L90.41,220.88 L90.78,220.32 L91.14,219.77 L91.51,219.23 L91.88,218.71 L92.24,218.19 L92.61,217.68 L92.97,217.18 L93.34,216.70 L93.71,216.22 L94.07,215.75 L94.44,215.29 L94.80,214.84 L95.17,214.40 L95.54,213.97 L95.90,213.54 L96.27,213.13 L96.63,212.72 L97.00,212.32 L97.37,211.93 L97.73,211.55 L98.10,211.18 L98.46,210.81 L98.83,210.46 L99.20,210.11 L99.56,209.76 L99.93,209.43 L100.29,209.10 L100.66,208.78 L101.03,208.47 L101.39,208.17 L101.76,207.87 L102.12,207.58 L102.49,207.29 L102.86,207.01 L103.22,206.74 L103.59,206.48 L103.95,206.22 L104.32,205.97 L104.69,205.72 L105.05,205.48 L105.42,205.25 L105.78,205.02 L106.15,204.80 L106.52,204.59 L106.88,204.38 L107.25,204.17 L107.61,203.97 L107.98,203.78 L108.35,203.59 L108.71,203.41 L109.08,203.23 L109.44,203.06 L109.81,202.89 L110.18,202.73 L110.54,202.58 L110.91,202.42 L111.27,202.28 L111.64,202.13 L112.01,202.00 L112.37,201.86 L112.74,201.73 L113.10,201.61 L113.47,201.49 L113.84,201.37 L114.20,201.26 L114.57,201.16 L114.93,201.05 L115.30,200.95 L115.67,200.86 L116.03,200.77 L116.40,200.68 L116.76,200.60 L117.13,200.52 L117.50,200.44 L117.86,200.37 L118.23,200.30 L118.59,200.23 L118.96,200.17 L119.33,200.11 L119.69,200.06 L120.06,200.01 L120.42,199.96 L120.79,199.91 L121.16,199.87 L121.52,199.83 L121.89,199.80 L122.25,199.77 L122.62,199.74 L122.99,199.71 L123.35,199.68 L123.72,199.66 L124.08,199.64 L124.45,199.63 L124.82,199.62 L125.18,199.61 L125.55,199.60 L125.91,199.59 L126.28,199.59 L126.65,199.59 L127.01,199.59 L127.38,199.60 L127.74,199.60 L128.11,199.61 L128.48,199.62 L128.84,199.64 L129.21,199.65 L129.57,199.67 L129.94,199.69 L130.31,199.71 L130.67,199.74 L131.04,199.77 L131.40,199.79 L131.77,199.82 L132.14,199.86 L132.50,199.89 L132.87,199.93 L133.23,199.97 L133.60,200.00 L133.97,200.05 L134.33,200.09 L134.70,200.13 L135.06,200.18 L135.43,200.23 L135.80,200.28 L136.16,200.33 L136.53,200.39 L136.89,200.44 L137.26,200.50 L137.63,200.55 L137.99,200.61 L138.36,200.67 L138.72,200.74 L139.09,200.80 L139.46,200.86 L139.82,200.93 L140.19,201.00 L140.55,201.07 L140.92,201.14 L141.29,201.21 L141.65,201.28 L142.02,201.36 L142.38,201.43 L142.75,201.51 L143.12,201.58 L143.48,201.66 L143.85,201.74 L144.21,201.82 L144.58,201.90 L144.95,201.99 L145.31,202.07 L145.68,202.16 L146.04,202.24 L146.41,202.33 L146.78,202.42 L147.14,202.50 L147.51,202.59 L147.87,202.68 L148.24,202.78 L148.61,202.87 L148.97,202.96 L149.34,203.05 L149.70,203.15 L150.07,203.24 L150.44,203.34 L150.80,203.44 L151.17,203.54 L151.53,203.63 L151.90,203.73 L152.26,203.83 L152.63,203.93 L153.00,204.03 L153.36,204.14 L153.73,204.24 L154.09,204.34 L154.46,204.45 L154.83,204.55 L155.19,204.66 L155.56,204.76 L155.92,204.87 L156.29,204.97 L156.66,205.08 L157.02,205.19 L157.39,205.30 L157.75,205.41 L158.12,205.52 L158.49,205.63 L158.85,205.74 L159.22,205.85 L159.58,205.96 L159.95,206.07 L160.32,206.18 L160.68,206.30 L161.05,206.41 L161.41,206.52 L161.78,206.64 L162.15,206.75 L162.51,206.86 L162.88,206.98 L163.24,207.10 L163.61,207.21 L163.98,207.33 L164.34,207.44 L164.71,207.56 L165.07,207.68 L165.44,207.79 L165.81,207.91 L166.17,208.03 L166.54,208.15 L166.90,208.27 L167.27,208.39 L167.64,208.50 L168.00,208.62 L168.37,208.74 L168.73,208.86 L169.10,208.98 L169.47,209.10 L169.83,209.22 L170.20,209.34 L170.56,209.47 L170.93,209.59 L171.30,209.71 L171.66,209.83 L172.03,209.95 L172.39,210.07 L172.76,210.19 L173.13,210.32 L173.49,210.44 L173.86,210.56 L174.22,210.68 L174.59,210.81 L174.96,210.93 L175.32,211.05 L175.69,211.17 L176.05,211.30 L176.42,211.42 L176.79,211.54 L177.15,211.67 L177.52,211.79 L177.88,211.92 L178.25,212.04 L178.62,212.16 L178.98,212.29 L179.35,212.41 L179.71,212.53 L180.08,212.66 L180.45,212.78 L180.81,212.91 L181.18,213.03 L181.54,213.16 L181.91,213.28 L182.28,213.40 L182.64,213.53 L183.01,213.65 L183.37,213.78 L183.74,213.90 L184.11,214.03 L184.47,214.15 L184.84,214.27 L185.20,214.40 L185.57,214.52 L185.94,214.65 L186.30,214.77 L186.67,214.90 L187.03,215.02 L187.40,215.15 L187.77,215.27 L188.13,215.39 L188.50,215.52 L188.86,215.64 L189.23,215.77 L189.60,215.89 L189.96,216.02 L190.33,216.14 L190.69,216.26 L191.06,216.39 L191.43,216.51 L191.79,216.64 L192.16,216.76 L192.52,216.88 L192.89,217.01 L193.26,217.13 L193.62,217.26 L193.99,217.38 L194.35,217.50 L194.72,217.63 L195.09,217.75 L195.45,217.87 L195.82,218.00 L196.18,218.12 L196.55,218.24 L196.92,218.37 L197.28,218.49 L197.65,218.61 L198.01,218.73 L198.38,218.86 L198.75,218.98 L199.11,219.10 L199.48,219.22 L199.84,219.35 L200.21,219.47 L200.58,219.59 L200.94,219.71 L201.31,219.83 L201.67,219.96 L202.04,220.08 L202.41,220.20 L202.77,220.32 L203.14,220.44 L203.50,220.56 L203.87,220.68 L204.24,220.80 L204.60,220.93 L204.97,221.05 L205.33,221.17 L205.70,221.29 L206.07,221.41 L206.43,221.53 L206.80,221.65 L207.16,221.77 L207.53,221.89 L207.90,222.01 L208.26,222.13 L208.63,222.25 L208.99,222.37 L209.36,222.48 L209.73,222.60 L210.09,222.72 L210.46,222.84 L210.82,222.96 L211.19,223.08 L211.56,223.20 L211.92,223.31 L212.29,223.43 L212.65,223.55 L213.02,223.67 L213.39,223.79 L213.75,223.90 L214.12,224.02 L214.48,224.14 L214.85,224.25 L215.22,224.37 L215.58,224.49 L215.95,224.60 L216.31,224.72 L216.68,224.84 L217.05,224.95 L217.41,225.07 L217.78,225.18 L218.14,225.30 L218.51,225.42 L218.88,225.53 L219.24,225.65 L219.61,225.76 L219.97,225.88 L220.34,225.99 L220.71,226.10 L221.07,226.22 L221.44,226.33 L221.80,226.45 L222.17,226.56 L222.54,226.67 L222.90,226.79 L223.27,226.90 L223.63,227.01 L224.00,227.13 L224.37,227.24 L224.73,227.35 L225.10,227.47 L225.46,227.58 L225.83,227.69 L226.20,227.80 L226.56,227.91 L226.93,228.03 L227.29,228.14 L227.66,228.25 L228.03,228.36 L228.39,228.47 L228.76,228.58 L229.12,228.69 L229.49,228.80 L229.86,228.91 L230.22,229.02 L230.59,229.13 L230.95,229.24 L231.32,229.35 L231.69,229.46 L232.05,229.57 L232.42,229.68 L232.78,229.79 L233.15,229.90 L233.52,230.01 L233.88,230.11 L234.25,230.22 L234.61,230.33 L234.98,230.44 L235.35,230.55 L235.71,230.65 L236.08,230.76 L236.44,230.87 L236.81,230.97 L237.18,231.08 L237.54,231.19 L237.91,231.29 L238.27,231.40 L238.64,231.51 L239.01,231.61 L239.37,231.72 L239.74,231.82 L240.10,231.93 L240.47,232.03 L240.84,232.14 L241.20,232.24 L241.57,232.35 L241.93,232.45 L242.30,232.56 L242.67,232.66 L243.03,232.77 L243.40,232.87 L243.76,232.97 L244.13,233.08 L244.50,233.18 L244.86,233.28 L245.23,233.39 L245.59,233.49 L245.96,233.59 L246.33,233.69 L246.69,233.80 L247.06,233.90 L247.42,234.00 L247.79,234.10 L248.16,234.20 L248.52,234.31 L248.89,234.41 L249.25,234.51 L249.62,234.61 L249.99,234.71 L250.35,234.81 L250.72,234.91 L251.08,235.01 L251.45,235.11 L251.82,235.21 L252.18,235.31 L252.55,235.41 L252.91,235.51 L253.28,235.61 L253.65,235.71 L254.01,235.81 L254.38,235.90 L254.74,236.00 L255.11,236.10 L255.48,236.20 L255.84,236.30 L256.21,236.39 L256.57,236.49 L256.94,236.59 L257.31,236.69 L257.67,236.78 L258.04,236.88 L258.40,236.98 L258.77,237.07 L259.14,237.17 L259.50,237.27 L259.87,237.36 L260.23,237.46 L260.60,237.55 L260.97,237.65 L261.33,237.75 L261.70,237.84 L262.06,237.94 L262.43,238.03 L262.80,238.12 L263.16,238.22 L263.53,238.31 L263.89,238.41 L264.26,238.50 L264.63,238.60 L264.99,238.69 L265.36,238.78 L265.72,238.88 L266.09,238.97 L266.46,239.06 L266.82,239.16 L267.19,239.25 L267.55,239.34 L267.92,239.43 L268.29,239.52 L268.65,239.62 L269.02,239.71 L269.38,239.80 L269.75,239.89 L270.12,239.98 L270.48,240.07 L270.85,240.17 L271.21,240.26 L271.58,240.35 L271.95,240.44 L272.31,240.53 L272.68,240.62 L273.04,240.71 L273.41,240.80 L273.78,240.89 L274.14,240.98 L274.51,241.07 L274.87,241.16 L275.24,241.25 L275.61,241.33 L275.97,241.42 L276.34,241.51 L276.70,241.60 L277.07,241.69 L277.44,241.78 L277.80,241.86 L278.17,241.95 L278.53,242.04 L278.90,242.13 L279.27,242.22 L279.63,242.30 L280.00,242.39 L280.36,242.48 L280.73,242.56 L281.10,242.65 L281.46,242.74 L281.83,242.82 L282.19,242.91 L282.56,242.99 L282.93,243.08 L283.29,243.17 L283.66,243.25 L284.02,243.34 L284.39,243.42 L284.76,243.51 L285.12,243.59 L285.49,243.68 L285.85,243.76 L286.22,243.85 L286.59,243.93 L286.95,244.01 L287.32,244.10 L287.68,244.18 L288.05,244.27 L288.42,244.35 L288.78,244.43 L289.15,244.52 L289.51,244.60 L289.88,244.68 L290.25,244.76 L290.61,244.85 L290.98,244.93 L291.34,245.01 L291.71,245.09 L292.08,245.18 L292.44,245.26 L292.81,245.34 L293.17,245.42 L293.54,245.50 L293.91,245.58 L294.27,245.66 L294.64,245.75 L295.00,245.83 L295.37,245.91 L295.74,245.99 L296.10,246.07 L296.47,246.15 L296.83,246.23 L297.20,246.31 L297.57,246.39 L297.93,246.47 L298.30,246.55 L298.66,246.63 L299.03,246.71 L299.40,246.79 L299.76,246.86 L300.13,246.94 L300.49,247.02 L300.86,247.10 L301.23,247.18 L301.59,247.26 L301.96,247.34 L302.32,247.41 L302.69,247.49 L303.06,247.57 L303.42,247.65 L303.79,247.72 L304.15,247.80 L304.52,247.88 L304.89,247.96 L305.25,248.03 L305.62,248.11 L305.98,248.19 L306.35,248.26 L306.72,248.34 L307.08,248.42 L307.45,248.49 L307.81,248.57 L308.18,248.64 L308.55,248.72 L308.91,248.79 L309.28,248.87 L309.64,248.95 L310.01,249.02 L310.38,249.10 L310.74,249.17 L311.11,249.25 L311.47,249.32 L311.84,249.39 L312.21,249.47 L312.57,249.54 L312.94,249.62 L313.30,249.69 L313.67,249.76 L314.04,249.84 L314.40,249.91 L314.77,249.99 L315.13,250.06 L315.50,250.13 L315.87,250.21 L316.23,250.28 L316.60,250.35 L316.96,250.42 L317.33,250.50 L317.70,250.57 L318.06,250.64 L318.43,250.71 L318.79,250.79 L319.16,250.86 L319.53,250.93 L319.89,251.00 L320.26,251.07 L320.62,251.14 L320.99,251.21 L321.36,251.29 L321.72,251.36 L322.09,251.43 L322.45,251.50 L322.82,251.57 L323.19,251.64 L323.55,251.71 L323.92,251.78 L324.28,251.85 L324.65,251.92 L325.02,251.99 L325.38,252.06 L325.75,252.13 L326.11,252.20 L326.48,252.27 L326.85,252.34 L327.21,252.41 L327.58,252.48 L327.94,252.55 L328.31,252.61 L328.68,252.68 L329.04,252.75 L329.41,252.82 L329.77,252.89 L330.14,252.96 L330.51,253.03 L330.87,253.09 L331.24,253.16 L331.60,253.23 L331.97,253.30 L332.34,253.36 L332.70,253.43 L333.07,253.50 L333.43,253.57 L333.80,253.63 L334.17,253.70 L334.53,253.77 L334.90,253.83 L335.26,253.90 L335.63,253.97 L336.00,254.03 L336.36,254.10 L336.73,254.17 L337.09,254.23 L337.46,254.30 L337.83,254.36 L338.19,254.43 L338.56,254.50 L338.92,254.56 L339.29,254.63 L339.66,254.69 L340.02,254.76 L340.39,254.82 L340.75,254.89 L341.12,254.95 L341.49,255.02 L341.85,255.08 L342.22,255.15 L342.58,255.21 L342.95,255.27 L343.32,255.34 L343.68,255.40 L344.05,255.47 L344.41,255.53 L344.78,255.59 L345.15,255.66 L345.51,255.72 L345.88,255.78 L346.24,255.85 L346.61,255.91 L346.98,255.97 L347.34,256.04 L347.71,256.10 L348.07,256.16 L348.44,256.23 L348.81,256.29 L349.17,256.35 L349.54,256.41 L349.90,256.48 L350.27,256.54 L350.64,256.60 L351.00,256.66 L351.37,256.72 L351.73,256.79 L352.10,256.85"/>
<line x1="57.90" y1="361.20" x2="57.90" y2="509.10" class="ax"/>
<line x1="52.20" y1="508.60" x2="57.90" y2="508.60" class="ax"/>
<line x1="52.20" y1="471.90" x2="57.90" y2="471.90" class="ax"/>
<line x1="52.20" y1="435.20" x2="57.90" y2="435.20" class="ax"/>
<line x1="52.20" y1="398.50" x2="57.90" y2="398.50" class="ax"/>
<line x1="52.20" y1="361.80" x2="57.90" y2="361.80" class="ax"/>
<line x1="55.30" y1="501.26" x2="57.90" y2="501.26" class="ax"/>
<line x1="55.30" y1="493.92" x2="57.90" y2="493.92" class="ax"/>
<line x1="55.30" y1="486.58" x2="57.90" y2="486.58" class="ax"/>
<line x1="55.30" y1="479.24" x2="57.90" y2="479.24" class="ax"/>
<line x1="55.30" y1="464.56" x2="57.90" y2="464.56" class="ax"/>
<line x1="55.30" y1="457.22" x2="57.90" y2="457.22" class="ax"/>
<line x1="55.30" y1="449.88" x2="57.90" y2="449.88" class="ax"/>
<line x1="55.30" y1="442.54" x2="57.90" y2="442.54" class="ax"/>
<line x1="55.30" y1="427.86" x2="57.90" y2="427.86" class="ax"/>
<line x1="55.30" y1="420.52" x2="57.90" y2="420.52" class="ax"/>
<line x1="55.30" y1="413.18" x2="57.90" y2="413.18" class="ax"/>
<line x1="55.30" y1="405.84" x2="57.90" y2="405.84" class="ax"/>
<line x1="55.30" y1="391.16" x2="57.90" y2="391.16" class="ax"/>
<line x1="55.30" y1="383.82" x2="57.90" y2="383.82" class="ax"/>
<line x1="55.30" y1="376.48" x2="57.90" y2="376.48" class="ax"/>
<line x1="55.30" y1="369.14" x2="57.90" y2="369.14" class="ax"/>
<text transform="translate(42.45,513.96) scale(1.1,1)" text-anchor="middle" font-size="14" class="t">30</text>
<text transform="translate(30.50,515.36) scale(1.15,1.25)" text-anchor="middle" font-size="14" class="t">−</text>
<text transform="translate(41.50,477.16) scale(1.1,1)" text-anchor="middle" font-size="14" class="t">25</text>
<text transform="translate(29.70,478.56) scale(1.15,1.25)" text-anchor="middle" font-size="14" class="t">−</text>
<text transform="translate(40.55,439.56) scale(1.1,1)" text-anchor="middle" font-size="14" class="t">20</text>
<text transform="translate(28.90,440.96) scale(1.15,1.25)" text-anchor="middle" font-size="14" class="t">−</text>
<text transform="translate(41.35,403.36) scale(1.1,1)" text-anchor="middle" font-size="14" class="t">15</text>
<text transform="translate(29.35,404.76) scale(1.15,1.25)" text-anchor="middle" font-size="14" class="t">−</text>
<text transform="translate(41.15,367.06) scale(1.1,1)" text-anchor="middle" font-size="14" class="t">10</text>
<text transform="translate(29.00,368.46) scale(1.15,1.25)" text-anchor="middle" font-size="14" class="t">−</text>
<line x1="57.30" y1="508.50" x2="353.00" y2="508.50" class="ax"/>
<line x1="59.30" y1="508.50" x2="59.30" y2="514.00" class="ax"/>
<line x1="73.94" y1="508.50" x2="73.94" y2="511.80" class="ax"/>
<line x1="88.58" y1="508.50" x2="88.58" y2="511.80" class="ax"/>
<line x1="103.22" y1="508.50" x2="103.22" y2="511.80" class="ax"/>
<line x1="117.86" y1="508.50" x2="117.86" y2="511.80" class="ax"/>
<line x1="132.50" y1="508.50" x2="132.50" y2="514.00" class="ax"/>
<line x1="147.14" y1="508.50" x2="147.14" y2="511.80" class="ax"/>
<line x1="161.78" y1="508.50" x2="161.78" y2="511.80" class="ax"/>
<line x1="176.42" y1="508.50" x2="176.42" y2="511.80" class="ax"/>
<line x1="191.06" y1="508.50" x2="191.06" y2="511.80" class="ax"/>
<line x1="205.70" y1="508.50" x2="205.70" y2="514.00" class="ax"/>
<line x1="220.34" y1="508.50" x2="220.34" y2="511.80" class="ax"/>
<line x1="234.98" y1="508.50" x2="234.98" y2="511.80" class="ax"/>
<line x1="249.62" y1="508.50" x2="249.62" y2="511.80" class="ax"/>
<line x1="264.26" y1="508.50" x2="264.26" y2="511.80" class="ax"/>
<line x1="278.90" y1="508.50" x2="278.90" y2="514.00" class="ax"/>
<line x1="293.54" y1="508.50" x2="293.54" y2="511.80" class="ax"/>
<line x1="308.18" y1="508.50" x2="308.18" y2="511.80" class="ax"/>
<line x1="322.82" y1="508.50" x2="322.82" y2="511.80" class="ax"/>
<line x1="337.46" y1="508.50" x2="337.46" y2="511.80" class="ax"/>
<line x1="352.10" y1="508.50" x2="352.10" y2="514.00" class="ax"/>
<text x="59.30" y="530.10" text-anchor="middle" font-size="14.5" class="t">0</text>
<text x="132.50" y="530.10" text-anchor="middle" font-size="14.5" class="t">5</text>
<text x="205.70" y="530.10" text-anchor="middle" font-size="14.5" class="t">10</text>
<text x="278.90" y="530.10" text-anchor="middle" font-size="14.5" class="t">15</text>
<text x="352.10" y="530.10" text-anchor="middle" font-size="14.5" class="t">20</text>
<path class="c" d="M115.22,508.60 L115.81,506.88 L116.40,505.21 L117.00,503.57 L117.59,501.98 L118.18,500.42 L118.77,498.90 L119.37,497.42 L119.96,495.97 L120.55,494.55 L121.14,493.17 L121.73,491.82 L122.33,490.50 L122.92,489.21 L123.51,487.94 L124.10,486.71 L124.70,485.51 L125.29,484.33 L125.88,483.18 L126.47,482.05 L127.06,480.95 L127.66,479.87 L128.25,478.82 L128.84,477.79 L129.43,476.78 L130.02,475.80 L130.62,474.83 L131.21,473.89 L131.80,472.96 L132.39,472.06 L132.99,471.18 L133.58,470.31 L134.17,469.46 L134.76,468.63 L135.35,467.82 L135.95,467.03 L136.54,466.25 L137.13,465.49 L137.72,464.74 L138.32,464.01 L138.91,463.30 L139.50,462.60 L140.09,461.91 L140.68,461.24 L141.28,460.58 L141.87,459.94 L142.46,459.31 L143.05,458.69 L143.65,458.09 L144.24,457.50 L144.83,456.92 L145.42,456.35 L146.01,455.80 L146.61,455.25 L147.20,454.72 L147.79,454.20 L148.38,453.69 L148.98,453.19 L149.57,452.70 L150.16,452.22 L150.75,451.75 L151.34,451.29 L151.94,450.84 L152.53,450.40 L153.12,449.97 L153.71,449.55 L154.31,449.14 L154.90,448.74 L155.49,448.34 L156.08,447.95 L156.67,447.58 L157.27,447.21 L157.86,446.84 L158.45,446.49 L159.04,446.14 L159.63,445.80 L160.23,445.47 L160.82,445.15 L161.41,444.83 L162.00,444.52 L162.60,444.22 L163.19,443.92 L163.78,443.63 L164.37,443.35 L164.96,443.07 L165.56,442.80 L166.15,442.54 L166.74,442.28 L167.33,442.03 L167.93,441.79 L168.52,441.55 L169.11,441.31 L169.70,441.08 L170.29,440.86 L170.89,440.65 L171.48,440.43 L172.07,440.23 L172.66,440.03 L173.26,439.83 L173.85,439.64 L174.44,439.46 L175.03,439.27 L175.62,439.10 L176.22,438.93 L176.81,438.76 L177.40,438.60 L177.99,438.44 L178.59,438.29 L179.18,438.14 L179.77,438.00 L180.36,437.86 L180.95,437.72 L181.55,437.59 L182.14,437.47 L182.73,437.34 L183.32,437.22 L183.92,437.11 L184.51,437.00 L185.10,436.89 L185.69,436.79 L186.28,436.69 L186.88,436.59 L187.47,436.50 L188.06,436.41 L188.65,436.33 L189.24,436.24 L189.84,436.17 L190.43,436.09 L191.02,436.02 L191.61,435.95 L192.21,435.89 L192.80,435.83 L193.39,435.77 L193.98,435.71 L194.57,435.66 L195.17,435.61 L195.76,435.56 L196.35,435.52 L196.94,435.48 L197.54,435.44 L198.13,435.41 L198.72,435.38 L199.31,435.35 L199.90,435.32 L200.50,435.30 L201.09,435.28 L201.68,435.26 L202.27,435.24 L202.87,435.23 L203.46,435.22 L204.05,435.21 L204.64,435.20 L205.23,435.20 L205.83,435.20 L206.42,435.20 L207.01,435.21 L207.60,435.21 L208.20,435.22 L208.79,435.23 L209.38,435.25 L209.97,435.26 L210.56,435.28 L211.16,435.30 L211.75,435.32 L212.34,435.34 L212.93,435.37 L213.53,435.40 L214.12,435.43 L214.71,435.46 L215.30,435.50 L215.89,435.53 L216.49,435.57 L217.08,435.61 L217.67,435.65 L218.26,435.70 L218.85,435.74 L219.45,435.79 L220.04,435.84 L220.63,435.89 L221.22,435.95 L221.82,436.00 L222.41,436.06 L223.00,436.12 L223.59,436.18 L224.18,436.24 L224.78,436.30 L225.37,436.37 L225.96,436.43 L226.55,436.50 L227.15,436.57 L227.74,436.65 L228.33,436.72 L228.92,436.79 L229.51,436.87 L230.11,436.95 L230.70,437.03 L231.29,437.11 L231.88,437.19 L232.48,437.28 L233.07,437.36 L233.66,437.45 L234.25,437.54 L234.84,437.63 L235.44,437.72 L236.03,437.81 L236.62,437.90 L237.21,438.00 L237.81,438.10 L238.40,438.19 L238.99,438.29 L239.58,438.39 L240.17,438.49 L240.77,438.60 L241.36,438.70 L241.95,438.81 L242.54,438.91 L243.14,439.02 L243.73,439.13 L244.32,439.24 L244.91,439.35 L245.50,439.47 L246.10,439.58 L246.69,439.70 L247.28,439.81 L247.87,439.93 L248.46,440.05 L249.06,440.17 L249.65,440.29 L250.24,440.41 L250.83,440.53 L251.43,440.66 L252.02,440.78 L252.61,440.91 L253.20,441.03 L253.79,441.16 L254.39,441.29 L254.98,441.42 L255.57,441.55 L256.16,441.69 L256.76,441.82 L257.35,441.95 L257.94,442.09 L258.53,442.22 L259.12,442.36 L259.72,442.50 L260.31,442.64 L260.90,442.78 L261.49,442.92 L262.09,443.06 L262.68,443.20 L263.27,443.35 L263.86,443.49 L264.45,443.64 L265.05,443.78 L265.64,443.93 L266.23,444.08 L266.82,444.23 L267.42,444.38 L268.01,444.53 L268.60,444.68 L269.19,444.83 L269.78,444.98 L270.38,445.14 L270.97,445.29 L271.56,445.45 L272.15,445.60 L272.75,445.76 L273.34,445.92 L273.93,446.07 L274.52,446.23 L275.11,446.39 L275.71,446.55 L276.30,446.72 L276.89,446.88 L277.48,447.04 L278.07,447.20 L278.67,447.37 L279.26,447.53 L279.85,447.70 L280.44,447.87 L281.04,448.03 L281.63,448.20 L282.22,448.37 L282.81,448.54 L283.40,448.71 L284.00,448.88 L284.59,449.05 L285.18,449.22 L285.77,449.39 L286.37,449.57 L286.96,449.74 L287.55,449.92 L288.14,450.09 L288.73,450.27 L289.33,450.44 L289.92,450.62 L290.51,450.80 L291.10,450.98 L291.70,451.15 L292.29,451.33 L292.88,451.51 L293.47,451.69 L294.06,451.88 L294.66,452.06 L295.25,452.24 L295.84,452.42 L296.43,452.61 L297.03,452.79 L297.62,452.97 L298.21,453.16 L298.80,453.35 L299.39,453.53 L299.99,453.72 L300.58,453.91 L301.17,454.09 L301.76,454.28 L302.36,454.47 L302.95,454.66 L303.54,454.85 L304.13,455.04 L304.72,455.23 L305.32,455.42 L305.91,455.62 L306.50,455.81 L307.09,456.00 L307.68,456.19 L308.28,456.39 L308.87,456.58 L309.46,456.78 L310.05,456.97 L310.65,457.17 L311.24,457.37 L311.83,457.56 L312.42,457.76 L313.01,457.96 L313.61,458.16 L314.20,458.35 L314.79,458.55 L315.38,458.75 L315.98,458.95 L316.57,459.15 L317.16,459.36 L317.75,459.56 L318.34,459.76 L318.94,459.96 L319.53,460.16 L320.12,460.37 L320.71,460.57 L321.31,460.77 L321.90,460.98 L322.49,461.18 L323.08,461.39 L323.67,461.59 L324.27,461.80 L324.86,462.01 L325.45,462.21 L326.04,462.42 L326.64,462.63 L327.23,462.84 L327.82,463.05 L328.41,463.25 L329.00,463.46 L329.60,463.67 L330.19,463.88 L330.78,464.09 L331.37,464.30 L331.97,464.52 L332.56,464.73 L333.15,464.94 L333.74,465.15 L334.33,465.36 L334.93,465.58 L335.52,465.79 L336.11,466.00 L336.70,466.22 L337.29,466.43 L337.89,466.65 L338.48,466.86 L339.07,467.08 L339.66,467.29 L340.26,467.51 L340.85,467.73 L341.44,467.94 L342.03,468.16 L342.62,468.38 L343.22,468.59 L343.81,468.81 L344.40,469.03 L344.99,469.25 L345.59,469.47 L346.18,469.69 L346.77,469.91 L347.36,470.13 L347.95,470.35 L348.55,470.57 L349.14,470.79 L349.73,471.01 L350.32,471.23 L350.92,471.46 L351.51,471.68 L352.10,471.90"/>
<path class="c dd" stroke-dashoffset="7.59" d="M87.97,508.60 L88.43,502.96 L88.90,497.60 L89.37,492.52 L89.84,487.68 L90.31,483.09 L90.78,478.72 L91.25,474.57 L91.72,470.61 L92.19,466.84 L92.65,463.25 L93.12,459.83 L93.59,456.56 L94.06,453.45 L94.53,450.48 L95.00,447.64 L95.47,444.93 L95.94,442.34 L96.41,439.87 L96.88,437.50 L97.34,435.24 L97.81,433.08 L98.28,431.01 L98.75,429.04 L99.22,427.15 L99.69,425.34 L100.16,423.61 L100.63,421.95 L101.10,420.37 L101.56,418.85 L102.03,417.40 L102.50,416.01 L102.97,414.68 L103.44,413.40 L103.91,412.19 L104.38,411.02 L104.85,409.90 L105.32,408.84 L105.79,407.82 L106.25,406.84 L106.72,405.90 L107.19,405.01 L107.66,404.16 L108.13,403.34 L108.60,402.56 L109.07,401.82 L109.54,401.11 L110.01,400.43 L110.47,399.79 L110.94,399.17 L111.41,398.58 L111.88,398.03 L112.35,397.49 L112.82,396.99 L113.29,396.51 L113.76,396.05 L114.23,395.62 L114.70,395.21 L115.16,394.83 L115.63,394.46 L116.10,394.12 L116.57,393.79 L117.04,393.49 L117.51,393.20 L117.98,392.93 L118.45,392.68 L118.92,392.44 L119.38,392.23 L119.85,392.02 L120.32,391.84 L120.79,391.66 L121.26,391.51 L121.73,391.36 L122.20,391.24 L122.67,391.12 L123.14,391.02 L123.61,390.92 L124.07,390.85 L124.54,390.78 L125.01,390.72 L125.48,390.68 L125.95,390.65 L126.42,390.62 L126.89,390.61 L127.36,390.61 L127.83,390.61 L128.29,390.63 L128.76,390.66 L129.23,390.69 L129.70,390.73 L130.17,390.79 L130.64,390.85 L131.11,390.91 L131.58,390.99 L132.05,391.07 L132.52,391.16 L132.98,391.26 L133.45,391.37 L133.92,391.48 L134.39,391.60 L134.86,391.72 L135.33,391.85 L135.80,391.99 L136.27,392.13 L136.74,392.28 L137.20,392.44 L137.67,392.60 L138.14,392.77 L138.61,392.94 L139.08,393.11 L139.55,393.30 L140.02,393.48 L140.49,393.68 L140.96,393.87 L141.43,394.07 L141.89,394.28 L142.36,394.49 L142.83,394.71 L143.30,394.93 L143.77,395.15 L144.24,395.38 L144.71,395.61 L145.18,395.84 L145.65,396.08 L146.11,396.33 L146.58,396.57 L147.05,396.82 L147.52,397.08 L147.99,397.33 L148.46,397.59 L148.93,397.86 L149.40,398.12 L149.87,398.39 L150.34,398.67 L150.80,398.94 L151.27,399.22 L151.74,399.50 L152.21,399.79 L152.68,400.08 L153.15,400.37 L153.62,400.66 L154.09,400.96 L154.56,401.25 L155.02,401.55 L155.49,401.86 L155.96,402.16 L156.43,402.47 L156.90,402.78 L157.37,403.09 L157.84,403.41 L158.31,403.73 L158.78,404.05 L159.25,404.37 L159.71,404.69 L160.18,405.02 L160.65,405.34 L161.12,405.67 L161.59,406.00 L162.06,406.34 L162.53,406.67 L163.00,407.01 L163.47,407.35 L163.93,407.69 L164.40,408.03 L164.87,408.38 L165.34,408.72 L165.81,409.07 L166.28,409.42 L166.75,409.77 L167.22,410.12 L167.69,410.47 L168.16,410.83 L168.62,411.19 L169.09,411.54 L169.56,411.90 L170.03,412.26 L170.50,412.63 L170.97,412.99 L171.44,413.35 L171.91,413.72 L172.38,414.09 L172.84,414.46 L173.31,414.83 L173.78,415.20 L174.25,415.57 L174.72,415.95 L175.19,416.32 L175.66,416.70 L176.13,417.07 L176.60,417.45 L177.07,417.83 L177.53,418.21 L178.00,418.59 L178.47,418.98 L178.94,419.36 L179.41,419.74 L179.88,420.13 L180.35,420.52 L180.82,420.90 L181.29,421.29 L181.76,421.68 L182.22,422.07 L182.69,422.46 L183.16,422.85 L183.63,423.25 L184.10,423.64 L184.57,424.04 L185.04,424.43 L185.51,424.83 L185.98,425.23 L186.44,425.62 L186.91,426.02 L187.38,426.42 L187.85,426.82 L188.32,427.22 L188.79,427.63 L189.26,428.03 L189.73,428.43 L190.20,428.84 L190.67,429.24 L191.13,429.65 L191.60,430.05 L192.07,430.46 L192.54,430.87 L193.01,431.27 L193.48,431.68 L193.95,432.09 L194.42,432.50 L194.89,432.91 L195.35,433.32 L195.82,433.74 L196.29,434.15 L196.76,434.56 L197.23,434.98 L197.70,435.39 L198.17,435.81 L198.64,436.22 L199.11,436.64 L199.58,437.05 L200.04,437.47 L200.51,437.89 L200.98,438.31 L201.45,438.72 L201.92,439.14 L202.39,439.56 L202.86,439.98 L203.33,440.40 L203.80,440.83 L204.26,441.25 L204.73,441.67 L205.20,442.09 L205.67,442.51 L206.14,442.94 L206.61,443.36 L207.08,443.79 L207.55,444.21 L208.02,444.64 L208.49,445.06 L208.95,445.49 L209.42,445.91 L209.89,446.34 L210.36,446.77 L210.83,447.20 L211.30,447.62 L211.77,448.05 L212.24,448.48 L212.71,448.91 L213.17,449.34 L213.64,449.77 L214.11,450.20 L214.58,450.63 L215.05,451.06 L215.52,451.49 L215.99,451.92 L216.46,452.36 L216.93,452.79 L217.40,453.22 L217.86,453.65 L218.33,454.09 L218.80,454.52 L219.27,454.96 L219.74,455.39 L220.21,455.82 L220.68,456.26 L221.15,456.69 L221.62,457.13 L222.08,457.57 L222.55,458.00 L223.02,458.44 L223.49,458.88 L223.96,459.31 L224.43,459.75 L224.90,460.19 L225.37,460.63 L225.84,461.06 L226.31,461.50 L226.77,461.94 L227.24,462.38 L227.71,462.82 L228.18,463.26 L228.65,463.70 L229.12,464.14 L229.59,464.58 L230.06,465.02 L230.53,465.46 L230.99,465.90 L231.46,466.34 L231.93,466.78 L232.40,467.22 L232.87,467.67 L233.34,468.11 L233.81,468.55 L234.28,468.99 L234.75,469.44 L235.22,469.88 L235.68,470.32 L236.15,470.77 L236.62,471.21 L237.09,471.65 L237.56,472.10 L238.03,472.54 L238.50,472.99 L238.97,473.43 L239.44,473.88 L239.90,474.32 L240.37,474.77 L240.84,475.21 L241.31,475.66 L241.78,476.10 L242.25,476.55 L242.72,477.00 L243.19,477.44 L243.66,477.89 L244.13,478.34 L244.59,478.78 L245.06,479.23 L245.53,479.68 L246.00,480.12 L246.47,480.57 L246.94,481.02 L247.41,481.47 L247.88,481.92 L248.35,482.36 L248.81,482.81 L249.28,483.26 L249.75,483.71 L250.22,484.16 L250.69,484.61 L251.16,485.06 L251.63,485.51 L252.10,485.96 L252.57,486.41 L253.04,486.86 L253.50,487.31 L253.97,487.76 L254.44,488.21 L254.91,488.66 L255.38,489.11 L255.85,489.56 L256.32,490.01 L256.79,490.46 L257.26,490.91 L257.72,491.36 L258.19,491.81 L258.66,492.27 L259.13,492.72 L259.60,493.17 L260.07,493.62 L260.54,494.07 L261.01,494.53 L261.48,494.98 L261.95,495.43 L262.41,495.88 L262.88,496.34 L263.35,496.79 L263.82,497.24 L264.29,497.69 L264.76,498.15 L265.23,498.60 L265.70,499.05 L266.17,499.51 L266.63,499.96 L267.10,500.41 L267.57,500.87 L268.04,501.32 L268.51,501.78 L268.98,502.23 L269.45,502.69 L269.92,503.14 L270.39,503.59 L270.86,504.05 L271.32,504.50 L271.79,504.96 L272.26,505.41 L272.73,505.87 L273.20,506.32 L273.67,506.78 L274.14,507.23 L274.61,507.69 L275.08,508.14 L275.54,508.60"/>
<circle cx="206.20" cy="26.10" r="2.3" fill="#000"/>
<circle cx="126.70" cy="115.80" r="2.3" fill="#000"/>
<text x="206.50" y="15.80" font-size="14" class="t" text-anchor="middle">MEP</text>
<text x="127.20" y="104.70" font-size="14" class="t" text-anchor="middle">MEP</text>
<text x="96.60" y="146.80" font-size="14" class="t i">a</text>
<text x="103.60" y="150.80" font-size="14" class="t">op</text>
<text x="118.40" y="141.20" font-size="14" class="t">+</text>
<text x="209.40" y="147.40" font-size="14" class="t i">k</text>
<text x="217.40" y="141.50" font-size="14" class="t">+</text>
<text x="224.40" y="152.70" font-size="14" class="t">op</text>
<text transform="translate(22.30,114.70) rotate(-90)" font-size="14" class="t i">v</text>
<text transform="translate(22.30,107.80) rotate(-90)" font-size="14" class="t">/</text>
<text transform="translate(22.30,103.20) rotate(-90)" font-size="14" class="t">[</text>
<text transform="translate(22.30,98.20) rotate(-90)" font-size="14" class="t i">E</text>
<text transform="translate(22.30,88.30) rotate(-90)" font-size="14" class="t">]</text>
<text transform="translate(26.20,83.70) rotate(-90)" font-size="14" class="t">tot</text>
<text transform="translate(22.40,62.00) rotate(-90)" font-size="14.5" class="t" letter-spacing="0.38">[1/s]</text>
<text transform="translate(20.00,262.30) rotate(-90) skewX(-8.0)" font-size="15" class="t i">H</text>
<text transform="translate(17.00,471.50) rotate(-90) skewX(-6.0)" font-size="14.5" class="t i">Tr</text>
<text transform="translate(17.00,454.30) rotate(-90)" font-size="14" class="t">(</text>
<text transform="translate(17.00,448.40) rotate(-90)" font-size="14" class="t i">J</text>
<text transform="translate(17.00,442.00) rotate(-90)" font-size="14" class="t">)</text>
<text transform="translate(17.20,432.60) rotate(-90)" font-size="14.5" class="t" letter-spacing="0.38">[1/s]</text>
<text x="177.60" y="542.90" font-size="14" class="t i">k</text>
<text x="184.60" y="538.40" font-size="11" class="t">+</text>
<text x="189.40" y="542.90" font-size="14" class="t">,</text>
<text x="198.20" y="542.90" font-size="14" class="t i">a</text>
<text x="205.20" y="537.80" font-size="12" class="t">+</text>
<text x="215.20" y="543.30" font-size="14.5" class="t" letter-spacing="0.45">[1/s]</text>
</svg></body></html>
